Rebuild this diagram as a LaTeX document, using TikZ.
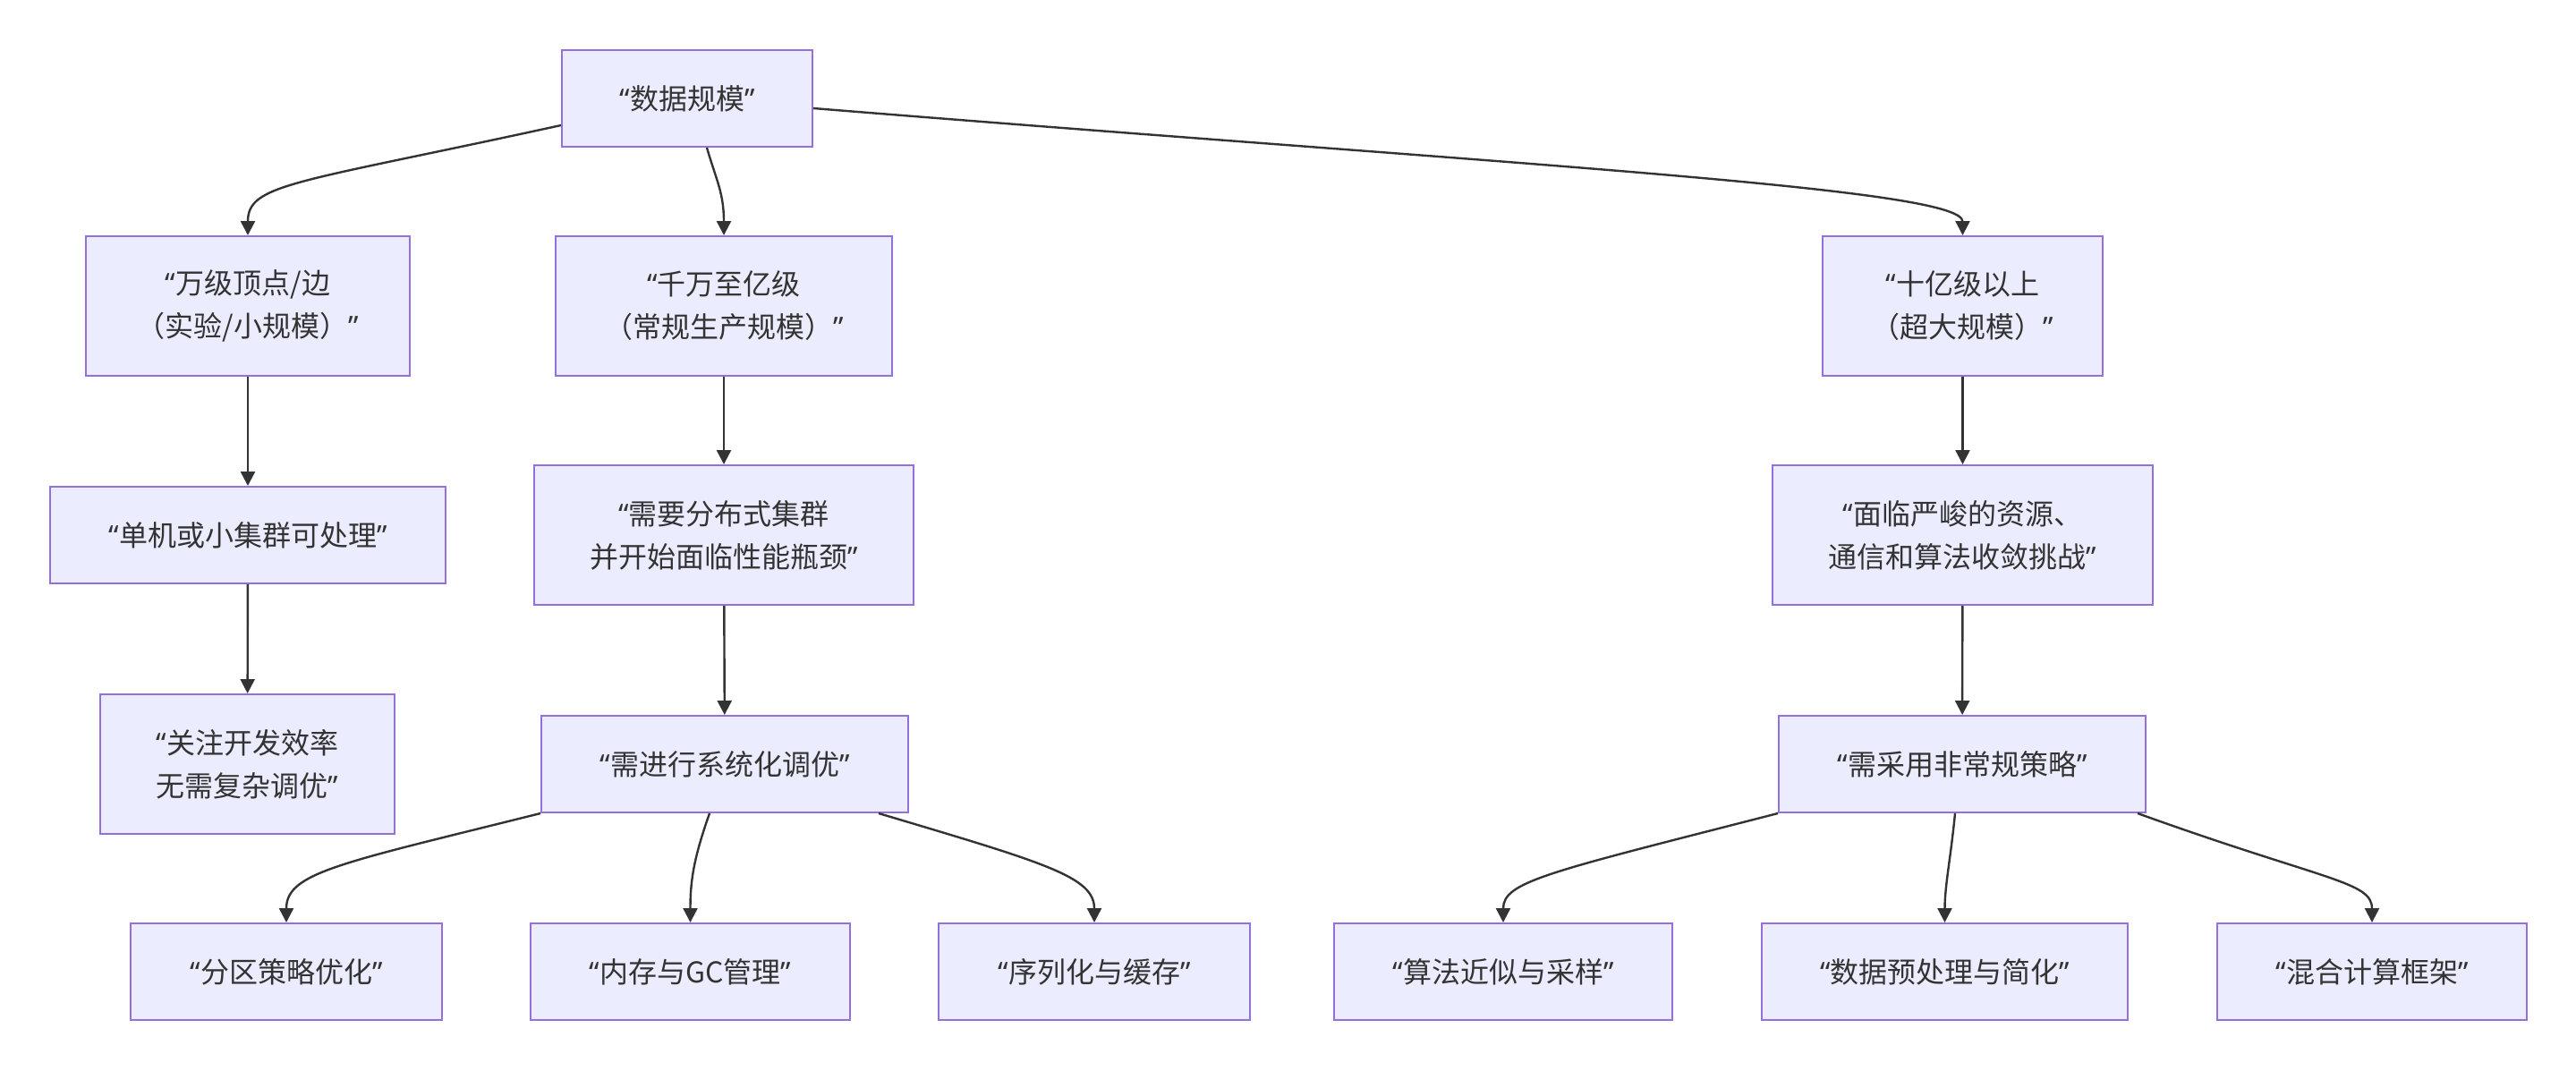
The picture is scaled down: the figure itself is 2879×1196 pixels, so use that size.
\documentclass[tikz,border=0pt]{standalone}
\usepackage{fontspec}
\newfontfamily\cjk{Noto Sans CJK SC}
\newfontfamily\latino{Noto Sans}
\newcommand\apri{{\latino “}}
\newcommand\chiudi{{\latino ”}}
\usetikzlibrary{arrows.meta}
\definecolor{boxfill}{HTML}{ECECFF}
\definecolor{boxline}{HTML}{9370DB}
\definecolor{ink}{HTML}{333333}
\begin{document}
\begin{tikzpicture}[x=0.5pt, y=-0.5pt,
    box/.style={draw=boxline, fill=boxfill, line width=1pt, text=ink,
        font=\cjk\fontsize{16pt}{24pt}\selectfont, align=center, inner sep=0pt},
    riga/.style={box, minimum height=54pt},
    righe/.style={box, minimum height=78pt},
    freccia/.style={draw=ink, line width=1.2pt, -{Triangle[length=8pt,width=8pt]}}]
    \useasboundingbox (0,0) rectangle (2879,1196);
    % Radice
    \node[riga, minimum width=140pt] (dati) at (768,110) {\apri 数据规模\chiudi};
    % Tre scale
    \node[righe, minimum width=181pt] (piccola) at (277,342) {\apri 万级顶点/边\\（实验/小规模）\chiudi};
    \node[righe, minimum width=188pt] (media) at (809,342) {\apri 千万至亿级\\（常规生产规模）\chiudi};
    \node[righe, minimum width=156.5pt] (enorme) at (2193.5,342) {\apri 十亿级以上\\（超大规模）\chiudi};
    % Conseguenze
    \node[riga, minimum width=221pt] (singola) at (277,598) {\apri 单机或小集群可处理\chiudi};
    \node[righe, minimum width=212pt] (distribuita) at (809,598) {\apri 需要分布式集群\\并开始面临性能瓶颈\chiudi};
    \node[righe, minimum width=212.5pt] (sfide) at (2193.5,598) {\apri 面临严峻的资源、\\通信和算法收敛挑战\chiudi};
    % Approcci
    \node[righe, minimum width=164.5pt] (efficienza) at (276.5,854) {\apri 关注开发效率\\无需复杂调优\chiudi};
    \node[riga, minimum width=205pt] (sistema) at (810,854) {\apri 需进行系统化调优\chiudi};
    \node[riga, minimum width=205pt] (strategie) at (2193,854) {\apri 需采用非常规策略\chiudi};
    % Foglie
    \node[riga, minimum width=174pt] (partizione) at (320,1086) {\apri 分区策略优化\chiudi};
    \node[riga, minimum width=178.5pt] (memoria) at (771.5,1086) {\apri 内存与GC管理\chiudi};
    \node[riga, minimum width=174pt] (serial) at (1223,1086) {\apri 序列化与缓存\chiudi};
    \node[riga, minimum width=189pt] (approssima) at (1680,1086) {\apri 算法近似与采样\chiudi};
    \node[riga, minimum width=204.5pt] (preproc) at (2173.5,1086) {\apri 数据预处理与简化\chiudi};
    \node[riga, minimum width=173pt] (ibrido) at (2651,1086) {\apri 混合计算框架\chiudi};
    % Frecce dalla radice
    \draw[freccia] ([yshift=-15pt]dati.west) .. controls (330,205) and (277,205) .. (piccola.north);
    \draw[freccia] ([xshift=11pt]dati.south) .. controls (800,200) and (809,215) .. (media.north);
    \draw[freccia] ([yshift=-5.5pt]dati.east) .. controls (1700,185) and (2193.5,210) .. (enorme.north);
    % Colonne
    \draw[freccia] (piccola) -- (singola);
    \draw[freccia] (singola) -- (efficienza);
    \draw[freccia] (media) -- (distribuita);
    \draw[freccia] (distribuita) -- (sistema);
    \draw[freccia] (enorme) -- (sfide);
    \draw[freccia] (sfide) -- (strategie);
    % Rami in basso
    \draw[freccia] (sistema.south west) .. controls (380,965) and (320,975) .. (partizione.north);
    \draw[freccia] ([xshift=-8.5pt]sistema.south) .. controls (775,960) and (771.5,985) .. (memoria.north);
    \draw[freccia] ([xshift=86pt]sistema.south) .. controls (1170,965) and (1223,980) .. (serial.north);
    \draw[freccia] (strategie.south west) .. controls (1730,975) and (1680,985) .. (approssima.north);
    \draw[freccia] ([xshift=-4pt]strategie.south) .. controls (2180,960) and (2173.5,990) .. (preproc.north);
    \draw[freccia] ([xshift=-5pt]strategie.south east) .. controls (2600,985) and (2651,985) .. (ibrido.north);
\end{tikzpicture}
\end{document}
